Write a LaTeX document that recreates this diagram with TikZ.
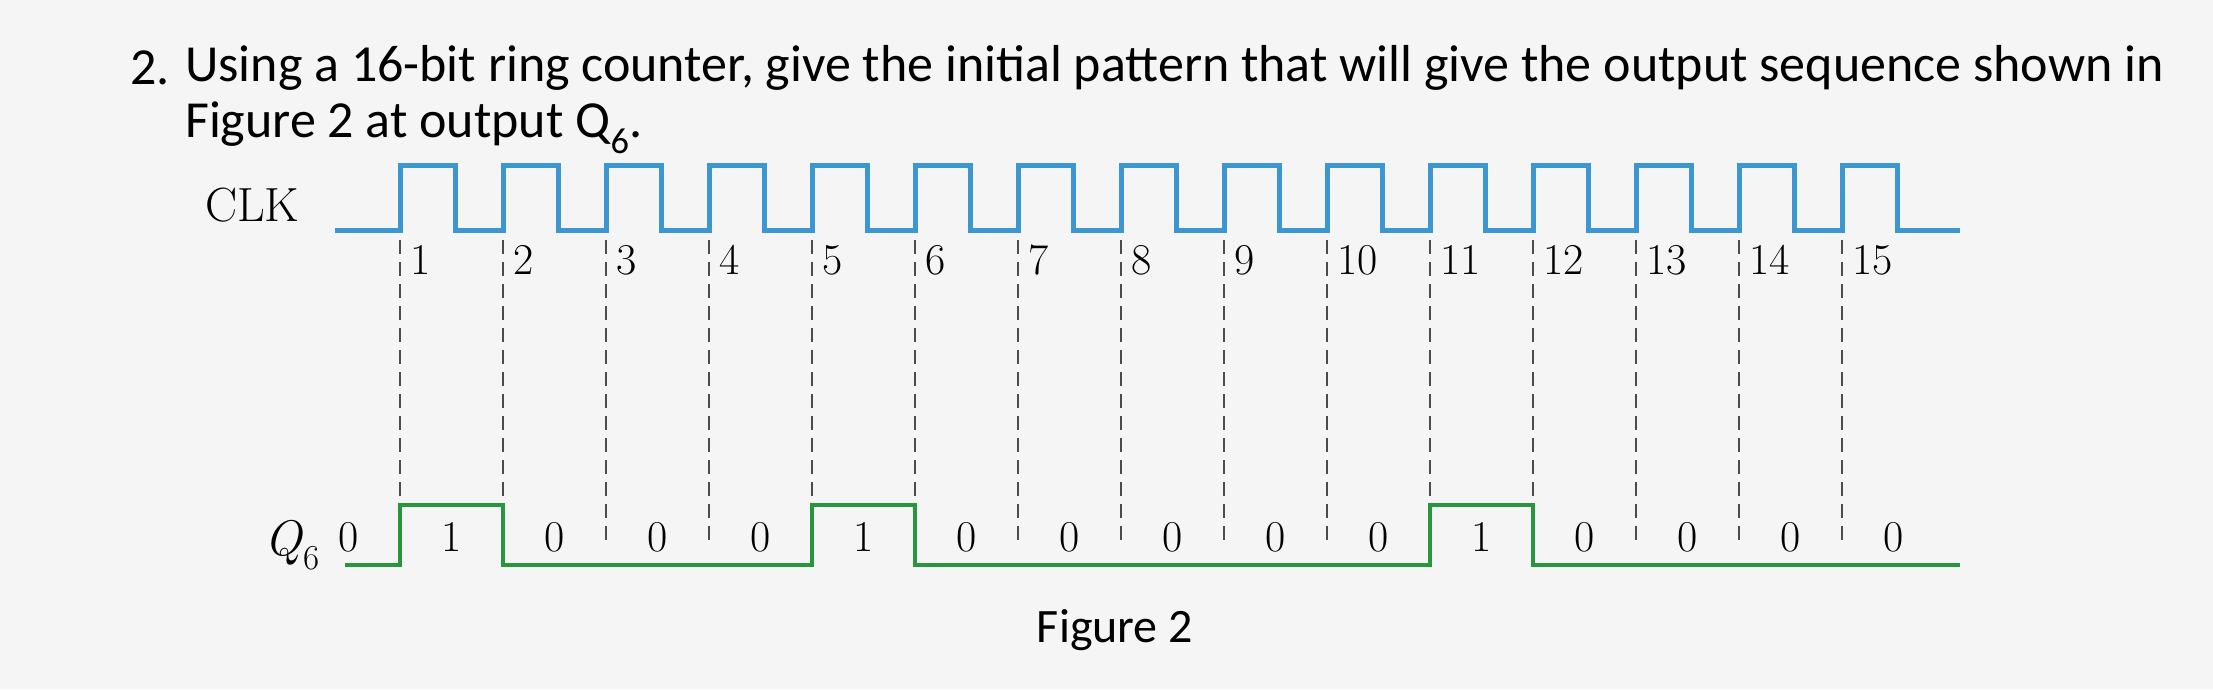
\documentclass[tikz,border=0pt]{standalone}
\usepackage{fontspec}
\setsansfont{Carlito}
\begin{document}
\begin{tikzpicture}[x=1pt,y=-1pt,
  clk/.style={draw={rgb,255:red,60;green,150;blue,210},line width=5pt},
  qsig/.style={draw={rgb,255:red,40;green,150;blue,60},line width=4pt},
  guide/.style={draw=black!70,dashed,line width=1.5pt,dash pattern=on 14pt off 8pt},
  txt/.style={font=\sffamily\fontsize{52}{60}\selectfont,anchor=west,inner sep=0},
  num/.style={font=\fontsize{44}{50}\selectfont,inner sep=0}]
\fill[black!4] (0,0) rectangle (2213,689);
\useasboundingbox (0,0) rectangle (2213,689);
\node[txt] (n2) at (130,68) {2.};
\node[txt] (l1) at (185,68) {Using a 16-bit ring counter, give the initial pattern that will give the output sequence shown in};
\node[txt] (l2) at (185,128) {Figure 2 at output Q\textsubscript{6}.};
\node[font=\fontsize{48}{54}\selectfont,anchor=west,inner sep=0] (clkl) at (205,205) {CLK};
\node[font=\fontsize{50}{56}\selectfont,inner sep=0] (ql) at (292,545) {\textit{Q}\textsubscript{6}};
\node[font=\sffamily\fontsize{48}{54}\selectfont,inner sep=0] (fig) at (1115,630) {Figure 2};
% clock
\def\edges{400,503,606,709,812,915,1018,1121,1224,1327,1430,1533,1636,1739,1842}
\draw[clk] (335,230) foreach \e in \edges {-- (\e,230) -- (\e,165) -- ({\e+55},165) -- ({\e+55},230)} -- (1960,230);
% guides and numbers
\foreach \e [count=\i] in \edges {
  \draw[guide] (\e,240) -- (\e,545);
  \node[num,anchor=west] (c\i) at ({\e+10},260) {\i};
}
% Q6
\draw[qsig] (345,565) -- (400,565) -- (400,505) -- (503,505) -- (503,565) -- (812,565) -- (812,505) -- (915,505) -- (915,565) -- (1430,565) -- (1430,505) -- (1533,505) -- (1533,565) -- (1960,565);
\foreach \v [count=\i] in {0,1,0,0,0,1,0,0,0,0,0,1,0,0,0,0} {
  \node[num] (q\i) at ({400+103*(\i-1.5)},537) {\v};
}
\end{tikzpicture}
\end{document}
